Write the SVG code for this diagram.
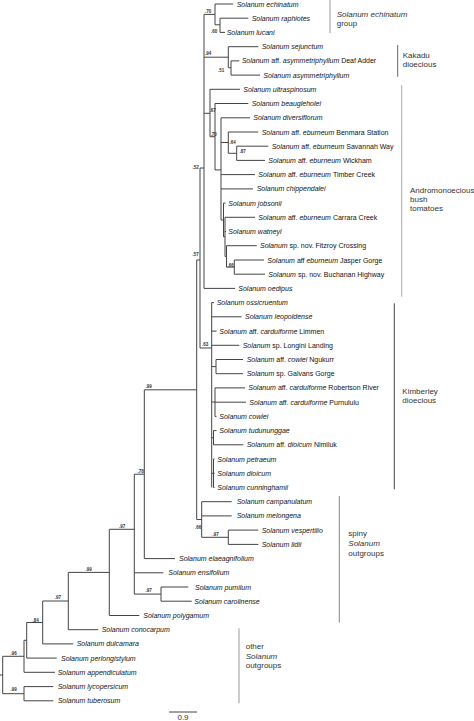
<svg xmlns="http://www.w3.org/2000/svg" width="474" height="721" viewBox="0 0 474 721">
<style>
.t{font-family:"Liberation Sans",Arial,sans-serif;font-size:7px;font-style:italic;fill:#111}
.r{font-style:normal}
.s{font-family:"Liberation Sans",Arial,sans-serif;font-size:4.5px;font-weight:bold;fill:#333}
.g{font-family:"Liberation Sans",Arial,sans-serif;font-size:8px;fill:#333}
.br{fill:none;stroke-width:1}
</style>
<rect width="474" height="721" fill="#fff"/>
<g id="connectors" fill="none" stroke="#444" stroke-width="1">
<path d="M0,675H2.7M2.7,656.3V693.7M2.7,656.3H24M24,640.3V672.3M24,672.3H55M24,640.3H26.7M26.7,622.5V658.1M26.7,658.1H56.7M26.7,622.5H42.7M42.7,601V643.9M42.7,643.9H73.3M42.7,601H68.3M68.3,572.4V629.7M68.3,629.7H98.3M68.3,572.4H109.3M109.3,529.3V615.5M109.3,615.5H139.3M109.3,529.3H134.3M134.3,474.2V594.1M134.3,572.8H163.3M134.3,594.1H161M161,587V601.2M161,587H188.3M161,601.2H191.7M134.3,474.2H144.3M144.3,389.8V558.6M144.3,558.6H175M144.3,389.8H196.7M196.7,260V519.5M196.7,519.5H201.7M201.7,501.7V537.3M201.7,501.7H231.7M201.7,515.9H231.7M201.7,537.3H228.3M228.3,530.1V544.4M228.3,530.1H258.3M228.3,544.4H258.3M196.7,260H200M200,168V348M200,168H204M200,348H211.7M2.7,693.7H24M24,686.6V700.8M24,686.6H53.3M24,700.8H53.3"/>
<path d="M204,14.4V288.4M204,288.4H235M204,14.4H215M215,4V24.8M215,4H233.3M215,24.8H220M220,18.2V32.4M220,18.2H248.3M220,32.4H225M204,57.2H228.3M228.3,46.7V67.7M228.3,46.7H258.3M228.3,67.7H231M231,60.9V75.1M231,60.9H239.3M231,75.1H260"/>
<path d="M204,113.3H210M210,89.3V136.7M210,89.3H240M210,136.7H215M215,103.5V169.9M215,103.5H248.3M215,169.9H221M221,117.8V220M221,117.8H250M221,142.5H228.3M228.3,132V153.3M228.3,132H258.3M228.3,153.3H236.7M236.7,146.2V160.4M236.7,146.2H268.3M236.7,160.4H265M221,174.6H255M221,188.9H253M221,220H223.5M223.5,203.1V236.8M223.5,203.1H225.5M223.5,236.8H225M225,217.3V256.4M225,217.3H255M225,231.5H226M225,256.4H226.5M226.5,245.7V267.1M226.5,245.7H256.7M226.5,267.1H234.3M234.3,260V274.2M234.3,260H264M234.3,274.2H265"/>
<path d="M211.7,302.6V487.5M211.7,302.6H214M211.7,316.8H241.5M211.7,331.1H216.5M211.7,345.3H239.3M211.7,366.6H216M216,359.5V373.7M216,359.5H243M216,373.7H243M211.7,402H215M215,387.9V416.4M215,387.9H245M215,402.2H246M215,416.4H216.5M211.7,437.7H213.5M213.5,430.6V444.8M213.5,430.6H216.5M213.5,444.8H243.3M211.7,473.3H213.5M213.5,459V487.5M213.5,459H214.5M213.5,473.3H214.5M213.5,487.5H214.5"/>
<path d="M169,712H197"/>
</g>
<g id="supports">
<text class="s" x="205" y="13">.70</text>
<text class="s" x="211" y="32.5">.60</text>
<text class="s" x="205" y="55">.94</text>
<text class="s" x="218" y="72">.51</text>
<text class="s" x="209.5" y="111.5">.67</text>
<text class="s" x="210.5" y="135.5">.70</text>
<text class="s" x="229.5" y="144">.64</text>
<text class="s" x="239.5" y="153">.87</text>
<text class="s" x="192.5" y="168.5">.52</text>
<text class="s" x="192.5" y="256">.57</text>
<text class="s" x="227.5" y="266.5">.66</text>
<text class="s" x="202" y="346">.63</text>
<text class="s" x="145.5" y="388">.99</text>
<text class="s" x="137.5" y="473">.78</text>
<text class="s" x="195" y="529">.66</text>
<text class="s" x="212.5" y="535.5">.97</text>
<text class="s" x="119" y="527.5">.97</text>
<text class="s" x="85.5" y="570.5">.99</text>
<text class="s" x="145.5" y="591.5">.97</text>
<text class="s" x="54.8" y="599">.97</text>
<text class="s" x="32.5" y="621.5">.84</text>
<text class="s" x="10.5" y="654.5">.96</text>
<text class="s" x="10.5" y="690.5">.99</text>
</g>
<g id="taxa">
<g id="t01"><text class="t" x="236.7" y="6.5">Solanum echinatum</text></g>
<g id="t02"><text class="t" x="251.7" y="20.7">Solanum raphiotes</text></g>
<g id="t03"><text class="t" x="226.7" y="34.9">Solanum lucani</text></g>
<g id="t04"><text class="t" x="261.7" y="49.2">Solanum sejunctum</text></g>
<g id="t05"><text class="t" x="241.7" y="63.4">Solanum <tspan class="r">aff.</tspan> asymmetriphyllum <tspan class="r">Deaf Adder</tspan></text></g>
<g id="t06"><text class="t" x="263.3" y="77.6">Solanum asymmetriphyllum</text></g>
<g id="t07"><text class="t" x="243.3" y="91.8">Solanum ultraspinosum</text></g>
<g id="t08"><text class="t" x="251.7" y="106">Solanum beaugleholei</text></g>
<g id="t09"><text class="t" x="253.3" y="120.3">Solanum diversiflorum</text></g>
<g id="t10"><text class="t" x="261.7" y="134.5">Solanum <tspan class="r">aff.</tspan> eburneum <tspan class="r">Benmara Station</tspan></text></g>
<g id="t11"><text class="t" x="271.7" y="148.7">Solanum <tspan class="r">aff.</tspan> eburneum <tspan class="r">Savannah Way</tspan></text></g>
<g id="t12"><text class="t" x="268.3" y="162.9">Solanum <tspan class="r">aff.</tspan> eburneum <tspan class="r">Wickham</tspan></text></g>
<g id="t13"><text class="t" x="258.3" y="177.1">Solanum <tspan class="r">aff.</tspan> eburneum <tspan class="r">Timber Creek</tspan></text></g>
<g id="t14"><text class="t" x="256.7" y="191.4">Solanum chippendalei</text></g>
<g id="t15"><text class="t" x="228.3" y="205.6">Solanum jobsonii</text></g>
<g id="t16"><text class="t" x="258.3" y="219.8">Solanum <tspan class="r">aff.</tspan> eburneum <tspan class="r">Carrara Creek</tspan></text></g>
<g id="t17"><text class="t" x="228.3" y="234">Solanum watneyi</text></g>
<g id="t18"><text class="t" x="260" y="248.2">Solanum <tspan class="r">sp. nov. Fitzroy Crossing</tspan></text></g>
<g id="t19"><text class="t" x="267.3" y="262.5">Solanum <tspan class="r">aff</tspan> eburneum <tspan class="r">Jasper Gorge</tspan></text></g>
<g id="t20"><text class="t" x="268.3" y="276.7">Solanum <tspan class="r">sp. nov. Buchanan Highway</tspan></text></g>
<g id="t21"><text class="t" x="238.3" y="290.9">Solanum oedipus</text></g>
<g id="t22"><text class="t" x="216.7" y="305.1">Solanum ossicruentum</text></g>
<g id="t23"><text class="t" x="245" y="319.3">Solanum leopoldense</text></g>
<g id="t24"><text class="t" x="219.3" y="333.6">Solanum <tspan class="r">aff.</tspan> carduiforme <tspan class="r">Limmen</tspan></text></g>
<g id="t25"><text class="t" x="242.7" y="347.8">Solanum <tspan class="r">sp. Longini Landing</tspan></text></g>
<g id="t26"><text class="t" x="246.7" y="362">Solanum <tspan class="r">aff.</tspan> cowiei <tspan class="r">Ngukurr</tspan></text></g>
<g id="t27"><text class="t" x="246.7" y="376.2">Solanum <tspan class="r">sp. Galvans Gorge</tspan></text></g>
<g id="t28"><text class="t" x="248.3" y="390.4">Solanum <tspan class="r">aff.</tspan> carduiforme <tspan class="r">Robertson River</tspan></text></g>
<g id="t29"><text class="t" x="249.3" y="404.7">Solanum <tspan class="r">aff.</tspan> carduiforme <tspan class="r">Purnululu</tspan></text></g>
<g id="t30"><text class="t" x="219.3" y="418.9">Solanum cowiei</text></g>
<g id="t31"><text class="t" x="219.3" y="433.1">Solanum tudununggae</text></g>
<g id="t32"><text class="t" x="246.7" y="447.3">Solanum <tspan class="r">aff.</tspan> dioicum <tspan class="r">Nimiluk</tspan></text></g>
<g id="t33"><text class="t" x="217.3" y="461.5">Solanum petraeum</text></g>
<g id="t34"><text class="t" x="217.3" y="475.8">Solanum dioicum</text></g>
<g id="t35"><text class="t" x="217.3" y="490">Solanum cunninghamii</text></g>
<g id="t36"><text class="t" x="236.7" y="504.2">Solanum campanulatum</text></g>
<g id="t37"><text class="t" x="236.7" y="518.4">Solanum melongena</text></g>
<g id="t38"><text class="t" x="261.7" y="532.6">Solanum vespertilio</text></g>
<g id="t39"><text class="t" x="261.7" y="546.9">Solanum lidii</text></g>
<g id="t40"><text class="t" x="179" y="561.1">Solanum elaeagnifolium</text></g>
<g id="t41"><text class="t" x="168.3" y="575.3">Solanum ensifolium</text></g>
<g id="t42"><text class="t" x="195" y="589.5">Solanum pumilum</text></g>
<g id="t43"><text class="t" x="194.3" y="603.7">Solanum carolinense</text></g>
<g id="t44"><text class="t" x="143.3" y="618">Solanum polygamum</text></g>
<g id="t45"><text class="t" x="101.7" y="632.2">Solanum conocarpum</text></g>
<g id="t46"><text class="t" x="76.7" y="646.4">Solanum dulcamara</text></g>
<g id="t47"><text class="t" x="61" y="660.6">Solanum perlongistylum</text></g>
<g id="t48"><text class="t" x="57.7" y="674.8">Solanum appendiculatum</text></g>
<g id="t49"><text class="t" x="57.7" y="689.1">Solanum lycopersicum</text></g>
<g id="t50"><text class="t" x="57.7" y="703.3">Solanum tuberosum</text></g>
</g>
<g id="groups">
<g id="grp-echinatum"><path class="br" stroke="#999" d="M330,0V33"/><text class="g" x="336.7" y="16.5"><tspan font-style="italic">Solanum echinatum</tspan></text><text class="g" x="336.7" y="25.5">group</text></g>
<g id="grp-kakadu"><path class="br" stroke="#666" d="M397.7,45V76.7"/><text class="g" x="402.7" y="58">Kakadu</text><text class="g" x="402.7" y="67.3">dioecious</text></g>
<g id="grp-andro"><path class="br" stroke="#aaa" d="M401.7,85V296.7"/><text class="g" x="410" y="192.5" font-size="7.8">Andromonoecious</text><text class="g" x="410" y="201.5" font-size="7.8">bush</text><text class="g" x="410" y="210.5" font-size="7.8">tomatoes</text></g>
<g id="grp-kimberley"><path class="br" stroke="#444" d="M394.3,303.3V489.3"/><text class="g" x="402.3" y="394">Kimberley</text><text class="g" x="402.3" y="403">dioecious</text></g>
<g id="grp-spiny"><path class="br" stroke="#888" d="M339.3,496V622.7"/><text class="g" x="348.3" y="536">spiny</text><text class="g" x="348.3" y="546" font-style="italic">Solanum</text><text class="g" x="348.3" y="556">outgroups</text></g>
<g id="grp-other"><path class="br" stroke="#999" d="M239,628.3V703.3"/><text class="g" x="245.7" y="649">other</text><text class="g" x="245.7" y="658.5" font-style="italic">Solanum</text><text class="g" x="245.7" y="668">outgroups</text></g>
</g>
<g id="scale"><text class="g" x="183" y="719.5" font-size="7" text-anchor="middle">0.9</text></g>
</svg>
